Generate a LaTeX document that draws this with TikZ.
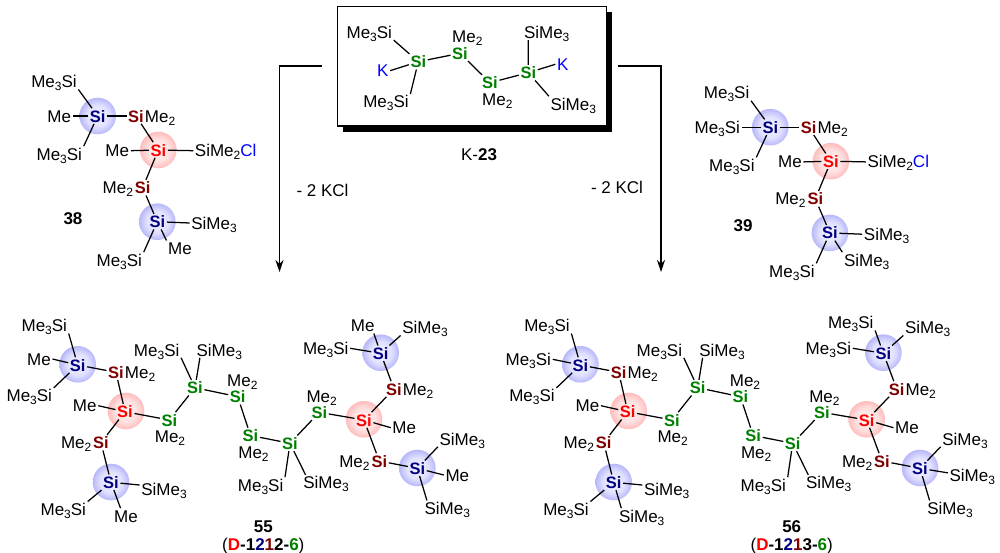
\documentclass[tikz,border=0pt]{standalone}
\usepackage{fontspec}
\setmainfont{Liberation Sans}
\usetikzlibrary{arrows.meta}
\definecolor{navySi}{HTML}{000080}
\definecolor{darkSi}{HTML}{800000}
\definecolor{redSi}{HTML}{FF0000}
\definecolor{greenSi}{HTML}{008000}
\definecolor{blueEl}{HTML}{0000FF}
\pgfdeclareradialshading{bluedisc}{\pgfpointorigin}{rgb(0bp)=(0.96,0.96,1); rgb(15bp)=(0.88,0.88,1); rgb(25bp)=(0.72,0.72,0.98); rgb(50bp)=(0.72,0.72,0.98)}
\pgfdeclareradialshading{reddisc}{\pgfpointorigin}{rgb(0bp)=(1,0.96,0.96); rgb(15bp)=(1,0.88,0.88); rgb(25bp)=(1,0.74,0.74); rgb(50bp)=(1,0.74,0.74)}
\newcommand\sbs[1]{\raisebox{-3pt}{\fontsize{12}{12}\selectfont #1}}
\newcommand\MeTS{Me\sbs{3}Si}
\newcommand\TSMe{SiMe\sbs{3}}
\newcommand\MeTw{Me\sbs{2}}
\newcommand\discB[2]{\shade[shading=bluedisc] (#1,#2) circle (18.3);}
\newcommand\discR[2]{\shade[shading=reddisc] (#1,#2) circle (18.3);}
\tikzset{
  lab/.style={font=\fontsize{17}{18}\selectfont,inner sep=1.5pt,text height=12.2pt,text depth=0pt},
  si/.style={lab,font=\fontsize{16.5}{18}\selectfont\bfseries},
  siG/.style={si,text=greenSi},
  siN/.style={si,text=navySi},
  siD/.style={si,text=darkSi},
  siR/.style={si,text=redSi},
  bond/.style={line width=1.25pt},
  route/.style={line width=1.3pt,-{Stealth[length=12pt,width=8pt]}},
  numlab/.style={lab,font=\fontsize{17}{18}\selectfont\bfseries},
  tailR/.style={lab,anchor=west,inner sep=0pt,xshift=-0.8pt},
  tailL/.style={lab,anchor=east,inner sep=0pt}
}
% parts shared by 38 and 39
\newcommand\smallmol{%
  \discB{97.7}{116}\discR{158.3}{150}\discB{157.3}{221.7}
  \node[siN] (b1) at (97.7,116) {Si};
  \node[siD] (d1) at (136,116) {Si};
  \node[tailR] (d1m) at (d1.east) {\MeTw};
  \node[siR] (r1) at (158.3,150) {Si};
  \node[siD] (d2) at (142.7,187.7) {Si};
  \node[tailL] (d2m) at (d2.west) {\MeTw};
  \node[siN] (b2) at (157.3,221.7) {Si};
  \node[lab] (l1) at (54,81.7) {\MeTS};
  \node[lab] (l2) at (59.3,154) {\MeTS};
  \node[lab] (l3) at (117.3,150.7) {Me};
  \node[lab] (l4) at (225.7,150.7) {SiMe\sbs{2}\textcolor{blueEl}{Cl}};
  \node[lab] (l5) at (214,223) {\TSMe};
  \node[lab] (l6) at (119.3,260) {\MeTS};
  \draw[bond] (b1) -- (l1.south east);
  \draw[bond] (b1) -- (l2.north east);
  \draw[bond] (b1) -- (d1);
  \draw[bond] (d1) -- (r1);
  \draw[bond] (r1) -- (l3.east);
  \draw[bond] (r1) -- (l4.west);
  \draw[bond] (r1) -- (d2);
  \draw[bond] (d2) -- (b2);
  \draw[bond] (b2) -- (l5.west);
  \draw[bond] (b2) -- (l6.north east);
}
% parts shared by 55 and 56
\newcommand\bigmol{%
  \discB{77.7}{364.3}\discR{126}{411}\discB{111}{482}\discR{364}{419.3}\discB{417.3}{468}\discB{380.7}{352.7}
  \node[siN] (b1) at (77.7,365) {Si};
  \node[siD] (d1) at (116,372.3) {Si};
  \node[tailR] (d1m) at (d1.east) {\MeTw};
  \node[siR] (r1) at (125,411.7) {Si};
  \node[siG] (ga) at (169.3,420) {Si};
  \node[lab] (gam) at (170,436.7) {\MeTw};
  \node[siD] (d2) at (101,442.7) {Si};
  \node[tailL] (d2m) at (d2.west) {\MeTw};
  \node[siN] (b2) at (111,482.3) {Si};
  \node[siG] (gb) at (195,387.7) {Si};
  \node[siG] (gc) at (237.7,396.7) {Si};
  \node[lab] (gcm) at (242.3,380) {\MeTw};
  \node[siG] (gd) at (250.5,435.5) {Si};
  \node[lab] (gdm) at (253.5,452.5) {\MeTw};
  \node[siG] (ge) at (290,443.3) {Si};
  \node[siG] (gf) at (319.3,412.3) {Si};
  \node[lab] (gfm) at (321.7,396) {\MeTw};
  \node[siR] (r2) at (364,420) {Si};
  \node[siD] (d3) at (394,389) {Si};
  \node[tailR] (d3m) at (d3.east) {\MeTw};
  \node[siD] (d4) at (379.3,461) {Si};
  \node[tailL] (d4m) at (d4.west) {\MeTw};
  \node[siN] (b3) at (417.3,468.3) {Si};
  \node[siN] (b4) at (380.7,353.3) {Si};
  \node[lab] (l1) at (44.3,325.7) {\MeTS};
  \node[lab] (l2) at (29.3,395.7) {\MeTS};
  \node[lab] (l3) at (84.7,405.7) {Me};
  \node[lab] (l4) at (164,489.3) {\TSMe};
  \node[lab] (l5) at (63.3,509.3) {\MeTS};
  \node[lab] (l6) at (156.7,350) {\MeTS};
  \node[lab] (l7) at (219.3,350) {\TSMe};
  \node[lab] (l8) at (260.6,485) {\MeTS};
  \node[lab] (l9) at (326,482.7) {\TSMe};
  \node[lab] (l10) at (404.3,427.7) {Me};
  \node[lab] (l11) at (462.3,439) {\TSMe};
  \node[lab] (l12) at (447.3,508.3) {\TSMe};
  \node[lab] (l13) at (425,327.7) {\TSMe};
  \node[lab] (l14) at (325.7,348.3) {\MeTS};
  \draw[bond] (b1) -- (l1.south east);
  \draw[bond] (b1) -- (l2.north east);
  \draw[bond] (b1) -- (d1);
  \draw[bond] (d1) -- (r1);
  \draw[bond] (r1) -- (l3.east);
  \draw[bond] (r1) -- (ga);
  \draw[bond] (r1) -- (d2);
  \draw[bond] (d2) -- (b2);
  \draw[bond] (b2) -- (l4.170);
  \draw[bond] (b2) -- (l5.north east);
  \draw[bond] (ga) -- (gb);
  \draw[bond] (gb) -- (l6.south east);
  \draw[bond] (gb) -- ([xshift=5pt]l7.south west);
  \draw[bond] (gb) -- (gc);
  \draw[bond] (gc) -- (gd);
  \draw[bond] (gd) -- (ge);
  \draw[bond] (ge) -- (l8.north east);
  \draw[bond] (ge) -- ([xshift=4pt]l9.north west);
  \draw[bond] (ge) -- (gf);
  \draw[bond] (gf) -- (r2);
  \draw[bond] (r2) -- (d3);
  \draw[bond] (r2) -- (l10.west);
  \draw[bond] (r2) -- (d4);
  \draw[bond] (d4) -- (b3);
  \draw[bond] (b3) -- (l11.south west);
  \draw[bond] (b3) -- ([xshift=4pt]l12.north west);
  \draw[bond] (b4) -- (d3);
  \draw[bond] (b4) -- (l13.south west);
  \draw[bond] (b4) -- (l14.east);
}
\begin{document}
\begin{tikzpicture}[x=1pt,y=-1pt]
\useasboundingbox (0,0) rectangle (1000,553);
\fill[white] (0,0) rectangle (1000,553);

% central box with K-23
\fill[black] (343,12.2) rectangle (612.3,131.6);
\node[draw=black,line width=1.3pt,fill=white,minimum width=269.3pt,minimum height=119.3pt,inner sep=0pt] (box) at (472,66.3) {};
\node[siG] (k1) at (418.3,61.7) {Si};
\node[siG] (k2) at (460,53.3) {Si};
\node[siG] (k3) at (490,82.7) {Si};
\node[siG] (k4) at (528.3,72.7) {Si};
\node[lab] (kl1) at (369.3,32.3) {\MeTS};
\node[lab,text=blueEl] (kk1) at (382.7,70.7) {K};
\node[lab] (kl2) at (386,101.7) {\MeTS};
\node[lab] (km2) at (467.3,36.7) {\MeTw};
\node[lab] (km3) at (497.3,99) {\MeTw};
\node[lab] (kl3) at (546.7,32.3) {\TSMe};
\node[lab,text=blueEl] (kk2) at (562.7,64.3) {K};
\node[lab] (kl4) at (573.3,104) {\TSMe};
\draw[bond] (k1) -- (kl1.south east);
\draw[bond] (k1) -- (kk1.east);
\draw[bond] (k1) -- (kl2.north east);
\draw[bond] (k1) -- (k2);
\draw[bond] (k2) -- (k3);
\draw[bond] (k3) -- (k4);
\draw[bond] (k4) -- ([xshift=6pt]kl3.south west);
\draw[bond] (k4) -- (kk2.west);
\draw[bond] (k4) -- (kl4.north west);
\node[lab] (k23) at (479,154) {K-\textbf{23}};

% reaction arrows
\coordinate (ls) at (321.7,66);
\coordinate (le) at (279.5,272);
\coordinate (rs) at (618.3,66);
\coordinate (re) at (661,272);
\draw[route] (ls) -| (le);
\draw[route] (rs) -| (re);
\node[lab] (kcl1) at (322.5,190) {- 2 KCl};
\node[lab] (kcl2) at (617,187) {- 2 KCl};

% 38
\begin{scope}[name prefix=a-]
\smallmol
\node[lab] (m) at (59.3,116) {Me};
\node[lab] (x) at (180,248.3) {Me};
\draw[bond] (b1) -- (m.east);
\draw[bond] (b2) -- (x.north west);
\node[numlab] (num) at (73,218.7) {38};
\end{scope}

% 39
\begin{scope}[shift={(672.6,11.2)},name prefix=c-]
\smallmol
\node[lab] (m) at (44.7,116) {\MeTS};
\node[lab] (x) at (194.1,248.8) {\TSMe};
\draw[bond] (b1) -- (m.east);
\draw[bond] (b2) -- (x.north west);
\node[numlab] (num) at (70.4,213.8) {39};
\end{scope}

% 55
\begin{scope}[name prefix=e-]
\bigmol
\node[lab] (m) at (39,359) {Me};
\node[lab] (x) at (126,516) {Me};
\node[lab] (t) at (362.7,325.7) {Me};
\node[lab] (r) at (457.3,475) {Me};
\draw[bond] (b1) -- (m.east);
\draw[bond] (b2) -- (x.125);
\draw[bond] (b4) -- (t.-35);
\draw[bond] (b3) -- (r.west);
\node[numlab] (num) at (263.3,526) {55};
\node[numlab] (nm) at (263.3,544) {{\mdseries(}\textcolor{redSi}{D}-1\textcolor{navySi}{2}\textcolor{darkSi}{1}2-\textcolor{greenSi}{6}{\mdseries)}};
\end{scope}

% 56
\begin{scope}[shift={(502.7,0)},name prefix=f-]
\bigmol
\node[lab] (m) at (25.6,359.3) {\MeTS};
\node[lab] (x) at (139,516) {\TSMe};
\node[lab] (t) at (348,322.7) {\MeTS};
\node[lab] (r) at (469.6,475) {\TSMe};
\draw[bond] (b1) -- (m.east);
\draw[bond] (b2) -- ([xshift=4pt]x.north west);
\draw[bond] (b4) -- (t.south east);
\draw[bond] (b3) -- (r.175);
\node[numlab] (num) at (289,526) {56};
\node[numlab] (nm) at (289,544) {{\mdseries(}\textcolor{redSi}{D}-1\textcolor{navySi}{2}\textcolor{darkSi}{1}3-\textcolor{greenSi}{6}{\mdseries)}};
\end{scope}
\end{tikzpicture}
\end{document}
